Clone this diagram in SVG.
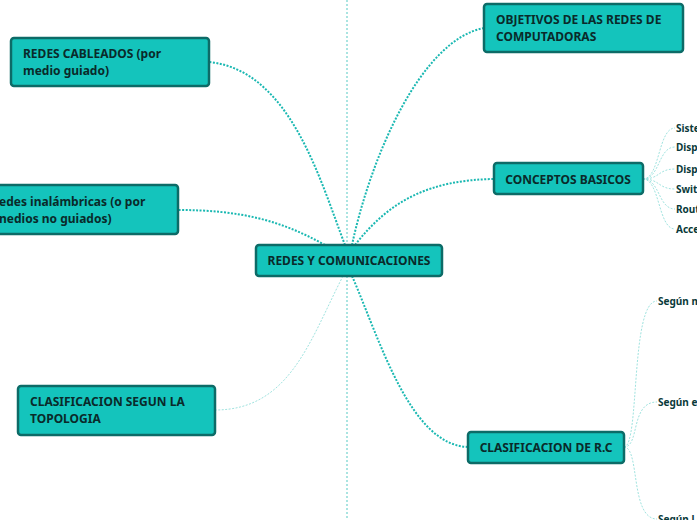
<svg xmlns="http://www.w3.org/2000/svg" width="697" height="520" viewBox="0 0 697 520">
<style>
.n{fill:#14c4bc;stroke:#0d6b67;stroke-width:2.5}
.t{font-family:"Noto Sans",sans-serif;font-weight:bold;font-size:12px;fill:#0a2a2a}
.s{font-family:"Noto Sans",sans-serif;font-weight:bold;font-size:10px;fill:#0a3a3a}
.c{fill:none;stroke:#1ab8b2;stroke-width:2;stroke-dasharray:2 1.5}
.l{fill:none;stroke:#9fe3df;stroke-width:1;stroke-dasharray:2 1.5}
</style>
<rect width="697" height="520" fill="#fff"/>
<line x1="347" y1="0" x2="347" y2="520" stroke="#8fdcd8" stroke-width="1.5" stroke-dasharray="2 2"/>
<g id="connectors">
<path class="c" d="M352,245 C370,160 420,40 484,28"/>
<path class="c" d="M355,245 C390,200 430,180 494,179"/>
<path class="c" d="M345,245 C320,180 290,70 209,62"/>
<path class="c" d="M325,245 C280,220 240,210 178,210"/>
<path class="l" d="M343,276 C310,340 290,410 215,410" stroke-width="1.5"/>
<path class="c" d="M352,276 C380,340 410,445 468,447"/>
<path class="l" d="M643,179 C660,179 658,128 675,128 M643,179 C660,179 658,147 675,147 M643,179 C660,179 658,169 675,169 M643,179 C660,179 658,189 675,189 M643,179 C660,179 658,209 675,209 M643,179 C660,179 658,229 675,229"/>
<path class="l" d="M624,447 C640,447 630,301 657,301 M624,447 C640,447 630,402 657,402 M624,447 C640,447 630,519 657,519"/>
</g>
<g id="center"><rect class="n" x="256" y="245" width="186" height="31" rx="3"/><text class="t" x="349" y="265" text-anchor="middle">REDES Y COMUNICACIONES</text></g>
<g id="cableados"><rect class="n" x="11" y="38" width="198" height="48" rx="3"/><text class="t" x="23" y="58">REDES CABLEADOS (por</text><text class="t" x="23" y="75">medio guiado)</text></g>
<g id="inalambricas"><rect class="n" x="-6" y="185" width="184" height="49" rx="3"/><text class="t" x="-1" y="206">edes inalámbricas (o por</text><text class="t" x="-1" y="223">nedios no guiados)</text></g>
<g id="topologia"><rect class="n" x="18" y="386" width="197" height="49" rx="3"/><text class="t" x="30" y="406">CLASIFICACION SEGUN LA</text><text class="t" x="30" y="423">TOPOLOGIA</text></g>
<g id="objetivos"><rect class="n" x="484" y="4" width="199" height="48" rx="3"/><text class="t" x="496" y="24">OBJETIVOS DE LAS REDES DE</text><text class="t" x="496" y="41">COMPUTADORAS</text></g>
<g id="conceptos"><rect class="n" x="494" y="163" width="149" height="31" rx="3"/><text class="t" x="568" y="184" text-anchor="middle">CONCEPTOS BASICOS</text></g>
<g id="clasificacion"><rect class="n" x="468" y="432" width="156" height="31" rx="3"/><text class="t" x="546" y="452" text-anchor="middle">CLASIFICACION DE R.C</text></g>
<g id="leaves">
<text class="s" x="676" y="132">Siste</text><text class="s" x="676" y="151">Disp</text><text class="s" x="676" y="173">Disp</text><text class="s" x="676" y="193" font-size="9">Switc</text><text class="s" x="676" y="213">Rout</text><text class="s" x="676" y="233" font-size="9">Acce</text>
<text class="s" x="658" y="305">Según m</text><text class="s" x="658" y="406">Según e</text><text class="s" x="658" y="523">Según l</text>
</g>
</svg>
